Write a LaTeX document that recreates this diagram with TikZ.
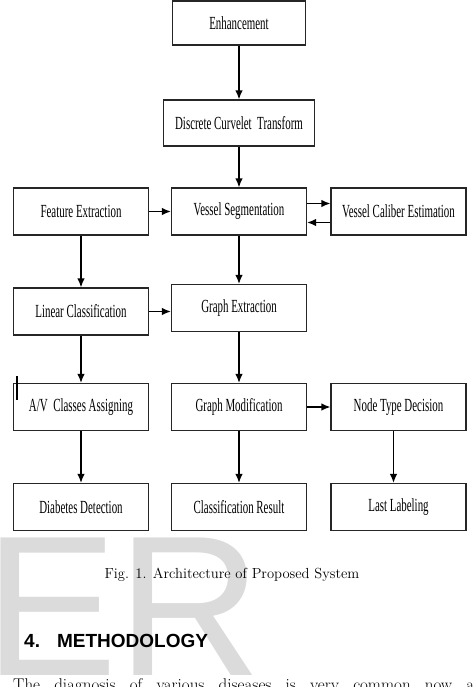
\documentclass[tikz,border=0pt]{standalone}
\usepackage{fontspec}
\usetikzlibrary{arrows.meta}
\newfontfamily\boxfont[FakeStretch=0.59]{Liberation Serif}
\newfontfamily\headfont{Liberation Sans}

\begin{document}
\begin{tikzpicture}
  [x=1pt,y=-1pt,
   box/.style={draw=black!85,line width=1.1pt,fill=white,minimum width=135pt,minimum height=47pt,
     inner sep=0pt,font=\boxfont\fontsize{18.5}{20}\selectfont},
   arrow/.style={line width=1.4pt,-{Latex[length=9pt,width=7.5pt]}}]
  \useasboundingbox (0,0) rectangle (474,687);
  \clip (0,0) rectangle (474,687);

  \node[text=black!14,anchor=base west,inner sep=0pt,font=\headfont\fontsize{200}{200}\selectfont] (nmark) at (-16,675) {ER};

  \node[box,minimum width=133pt,minimum height=44pt] (nenh) at (239,23) {Enhancement};
  \node[box,minimum width=151pt,minimum height=46pt] (ndct) at (239,123) {Discrete Curvelet\ \ Transform};
  \node[box] (nfeat) at (81,211.5) {Feature Extraction};
  \node[box] (nves) at (239,211.5) {Vessel Segmentation};
  \node[box] (ncal) at (398.5,211.5) {Vessel Caliber Estimation};
  \node[box] (nlin) at (81,311.5) {Linear Classification};
  \node[box] (ngra) at (239,308) {Graph Extraction};
  \node[box] (nav) at (81,407) {A/V\ \ Classes Assigning\hspace{16pt}};
  \node[box] (nmod) at (239,407) {Graph Modification};
  \node[box] (ntype) at (398.5,407) {Node Type Decision};
  \node[box] (ndia) at (81,507) {Diabetes Detection};
  \node[box] (nres) at (239,507) {Classification Result};
  \node[box] (nlab) at (398.5,507) {Last Labeling};

  \foreach \from/\to in {nenh/ndct,ndct/nves,nfeat/nves,nfeat/nlin,nlin/nav,nav/ndia,nves/ngra,ngra/nmod,nmod/nres,nmod/ntype}
    \draw[arrow] (\from) -- (\to);
  \draw[arrow] (nlin) -- (nlin -| ngra.west);
  \draw[arrow] ([yshift=8pt]nves.east) -- ([yshift=8pt]ncal.west);
  \draw[arrow] ([yshift=-11pt]ncal.west) -- ([yshift=-11pt]nves.east);
  \draw[arrow] ([xshift=-5pt]ntype.south) -- ([xshift=-5pt]nlab.north);

  \draw[line width=1.5pt] (17,376) -- (17,400);

  \node[anchor=base,inner sep=0pt,font=\fontsize{14.6}{17}\selectfont] (ncap) at (232,578) {Fig. 1. Architecture of Proposed System};
  \node[anchor=base west,inner sep=0pt,font=\headfont\bfseries\fontsize{19}{22}\selectfont] (nhead) at (24,647) {4.\hspace{17pt}METHODOLOGY};
  \node[anchor=base west,inner sep=0pt,font=\fontsize{17}{20}\selectfont] (nbody) at (13,690)
    {\makebox[461pt][s]{The diagnosis of various diseases is very common now a}};
\end{tikzpicture}
\end{document}
